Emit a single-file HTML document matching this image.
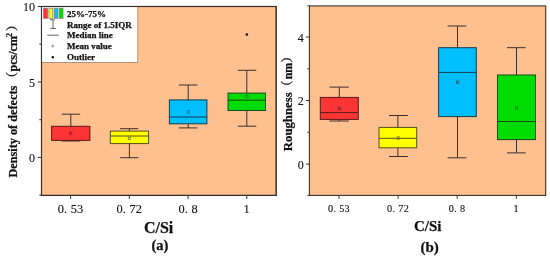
<!DOCTYPE html>
<html><head><meta charset="utf-8"><title>Box plots</title>
<style>
html,body{margin:0;padding:0;background:#fff;}
body{width:550px;height:258px;overflow:hidden;}
svg{display:block;}
text{font-family:"Liberation Serif","Noto Serif CJK SC",serif;fill:#111;stroke:#111;stroke-width:0.12px;}
.b{font-weight:bold;stroke:#111;stroke-width:0.25px;}
</style></head><body>
<svg width="550" height="258" viewBox="0 0 550 258">
<rect width="550" height="258" fill="#fff"/>
<rect x="41.5" y="6.5" width="234.7" height="188.9" fill="#FEC08F" stroke="#3c302b" stroke-width="1.1"/>
<line x1="37.7" y1="6.5" x2="41.5" y2="6.5" stroke="#3c302b" stroke-width="1"/>
<line x1="39.3" y1="44.2" x2="41.5" y2="44.2" stroke="#3c302b" stroke-width="1"/>
<line x1="37.7" y1="82.0" x2="41.5" y2="82.0" stroke="#3c302b" stroke-width="1"/>
<line x1="39.3" y1="119.7" x2="41.5" y2="119.7" stroke="#3c302b" stroke-width="1"/>
<line x1="37.7" y1="157.4" x2="41.5" y2="157.4" stroke="#3c302b" stroke-width="1"/>
<line x1="39.3" y1="195.1" x2="41.5" y2="195.1" stroke="#3c302b" stroke-width="1"/>
<text x="35" y="11.1" font-size="12" text-anchor="end">10</text>
<text x="35" y="86.5" font-size="12" text-anchor="end">5</text>
<text x="35" y="162.0" font-size="12" text-anchor="end">0</text>
<line x1="70.6" y1="195.4" x2="70.6" y2="199.0" stroke="#3c302b" stroke-width="1"/>
<line x1="129.3" y1="195.4" x2="129.3" y2="199.0" stroke="#3c302b" stroke-width="1"/>
<line x1="188.1" y1="195.4" x2="188.1" y2="199.0" stroke="#3c302b" stroke-width="1"/>
<line x1="246.8" y1="195.4" x2="246.8" y2="199.0" stroke="#3c302b" stroke-width="1"/>
<text x="70.6" y="213" font-size="12.4" letter-spacing="0.2" text-anchor="middle">0. 53</text>
<text x="129.3" y="213" font-size="12.4" letter-spacing="0.2" text-anchor="middle">0. 72</text>
<text x="188.1" y="213" font-size="12.4" letter-spacing="0.2" text-anchor="middle">0. 8</text>
<text x="246.8" y="213" font-size="12.4" letter-spacing="0.2" text-anchor="middle">1</text>
<line x1="70.8" y1="114.2" x2="70.8" y2="141.0" stroke="#3c302b" stroke-width="1"/>
<line x1="61.8" y1="114.2" x2="80.2" y2="114.2" stroke="#3c302b" stroke-width="1"/>
<line x1="61.8" y1="141.0" x2="80.2" y2="141.0" stroke="#3c302b" stroke-width="1"/>
<rect x="51.6" y="126.3" width="38.3" height="14.1" fill="#FB3434" stroke="#5c1a1a" stroke-width="1"/>
<rect x="69.5" y="132.1" width="2.4" height="2.4" fill="none" stroke="#5c1a1a" stroke-width="0.6"/>
<line x1="129.4" y1="128.7" x2="129.4" y2="157.7" stroke="#3c302b" stroke-width="1"/>
<line x1="120.1" y1="128.7" x2="138.3" y2="128.7" stroke="#3c302b" stroke-width="1"/>
<line x1="120.1" y1="157.7" x2="138.3" y2="157.7" stroke="#3c302b" stroke-width="1"/>
<rect x="110.3" y="131.1" width="38.3" height="12.5" fill="#FFFF00" stroke="#55501a" stroke-width="1"/>
<line x1="110.3" y1="136.0" x2="148.6" y2="136.0" stroke="#55501a" stroke-width="1"/>
<rect x="128.2" y="137.2" width="2.4" height="2.4" fill="none" stroke="#55501a" stroke-width="0.6"/>
<line x1="188.2" y1="85.0" x2="188.2" y2="127.9" stroke="#3c302b" stroke-width="1"/>
<line x1="178.9" y1="85.0" x2="197.4" y2="85.0" stroke="#3c302b" stroke-width="1"/>
<line x1="178.9" y1="127.9" x2="197.4" y2="127.9" stroke="#3c302b" stroke-width="1"/>
<rect x="169.4" y="99.9" width="37.5" height="23.9" fill="#00BFFF" stroke="#1a3a4a" stroke-width="1"/>
<line x1="169.4" y1="117.0" x2="206.9" y2="117.0" stroke="#1a3a4a" stroke-width="1"/>
<rect x="187.2" y="110.7" width="2.4" height="2.4" fill="none" stroke="#1a3a4a" stroke-width="0.6"/>
<line x1="246.8" y1="70.3" x2="246.8" y2="126.2" stroke="#3c302b" stroke-width="1"/>
<line x1="237.8" y1="70.3" x2="256.3" y2="70.3" stroke="#3c302b" stroke-width="1"/>
<line x1="237.8" y1="126.2" x2="256.3" y2="126.2" stroke="#3c302b" stroke-width="1"/>
<rect x="228.0" y="93.1" width="37.5" height="17.4" fill="#00DC00" stroke="#1a4a1a" stroke-width="1"/>
<line x1="228.0" y1="100.2" x2="265.5" y2="100.2" stroke="#1a4a1a" stroke-width="1"/>
<rect x="245.6" y="95.2" width="2.4" height="2.4" fill="none" stroke="#1a4a1a" stroke-width="0.6"/>
<circle cx="246.9" cy="34.5" r="1.3" fill="#111"/>
<rect x="41.5" y="6.5" width="96.3" height="55.9" fill="#fff" stroke="#7a6050" stroke-width="0.6"/>
<rect x="43.6" y="8.2" width="3.9" height="10.1" fill="#FB3434" stroke="#808080" stroke-width="0.8"/>
<rect x="48.9" y="8.2" width="3.9" height="10.1" fill="#FFFF00" stroke="#808080" stroke-width="0.8"/>
<rect x="54.2" y="8.2" width="3.7" height="10.1" fill="#00BFFF" stroke="#808080" stroke-width="0.8"/>
<rect x="59.2" y="8.2" width="3.8" height="10.1" fill="#00DC00" stroke="#808080" stroke-width="0.8"/>
<path d="M49.8 19.8 H54.8 M53 19.8 V28.5 M50.3 28.5 H55.9" stroke="#666" stroke-width="1" fill="none"/>
<line x1="47.3" y1="35.2" x2="58.7" y2="35.2" stroke="#666" stroke-width="1"/>
<circle cx="52.8" cy="46" r="1.4" fill="#a8a8a8"/>
<circle cx="52.8" cy="57.3" r="1.2" fill="#111"/>
<text class="b" x="66.9" y="17.1" font-size="9">25%-75%</text>
<text class="b" x="66.9" y="28.0" font-size="9">Range of 1.5IQR</text>
<text class="b" x="66.9" y="38.2" font-size="9">Median line</text>
<text class="b" x="66.9" y="49.1" font-size="9">Mean value</text>
<text class="b" x="66.9" y="59.6" font-size="9">Outlier</text>
<rect x="41.5" y="6.5" width="234.7" height="188.9" fill="none" stroke="#3c302b" stroke-width="1.1"/>
<text class="b" transform="translate(17.4,177.6) rotate(-90)" font-size="12.25" >Density of defects</text>
<text class="b" transform="translate(17.4,84.0) rotate(-90)" font-size="12" >（</text>
<text class="b" transform="translate(17.4,71.4) rotate(-90)" font-size="12" >pcs/cm</text>
<text class="b" transform="translate(12.4,37.0) rotate(-90)" font-size="8" >2</text>
<text class="b" transform="translate(17.4,31.0) rotate(-90)" font-size="12" >）</text>
<text class="b" x="158.6" y="232.7" font-size="16" text-anchor="middle">C/Si</text>
<text class="b" x="160" y="250" font-size="14.5" text-anchor="middle">(a)</text>
<rect x="309.4" y="5.9" width="236.3" height="189.5" fill="#FEC08F" stroke="#3c302b" stroke-width="1.1"/>
<line x1="307.4" y1="5.9" x2="309.4" y2="5.9" stroke="#3c302b" stroke-width="1"/>
<line x1="306.0" y1="37.0" x2="309.4" y2="37.0" stroke="#3c302b" stroke-width="1"/>
<line x1="307.4" y1="68.8" x2="309.4" y2="68.8" stroke="#3c302b" stroke-width="1"/>
<line x1="306.0" y1="100.5" x2="309.4" y2="100.5" stroke="#3c302b" stroke-width="1"/>
<line x1="307.4" y1="132.3" x2="309.4" y2="132.3" stroke="#3c302b" stroke-width="1"/>
<line x1="306.0" y1="164.1" x2="309.4" y2="164.1" stroke="#3c302b" stroke-width="1"/>
<line x1="307.4" y1="195.4" x2="309.4" y2="195.4" stroke="#3c302b" stroke-width="1"/>
<text x="303.8" y="41.8" font-size="12" text-anchor="end">4</text>
<text x="303.8" y="105.3" font-size="12" text-anchor="end">2</text>
<text x="303.8" y="168.9" font-size="12" text-anchor="end">0</text>
<line x1="339.0" y1="195.4" x2="339.0" y2="198.8" stroke="#3c302b" stroke-width="1"/>
<line x1="398.1" y1="195.4" x2="398.1" y2="198.8" stroke="#3c302b" stroke-width="1"/>
<line x1="457.2" y1="195.4" x2="457.2" y2="198.8" stroke="#3c302b" stroke-width="1"/>
<line x1="516.3" y1="195.4" x2="516.3" y2="198.8" stroke="#3c302b" stroke-width="1"/>
<text x="339.0" y="212" font-size="10.2" letter-spacing="0.35" text-anchor="middle">0. 53</text>
<text x="398.1" y="212" font-size="10.2" letter-spacing="0.35" text-anchor="middle">0. 72</text>
<text x="457.2" y="212" font-size="10.2" letter-spacing="0.35" text-anchor="middle">0. 8</text>
<text x="516.3" y="212" font-size="10.2" letter-spacing="0.35" text-anchor="middle">1</text>
<line x1="339.3" y1="87.1" x2="339.3" y2="121.0" stroke="#3c302b" stroke-width="1"/>
<line x1="329.5" y1="87.1" x2="348.8" y2="87.1" stroke="#3c302b" stroke-width="1"/>
<line x1="329.5" y1="121.0" x2="348.8" y2="121.0" stroke="#3c302b" stroke-width="1"/>
<rect x="320.3" y="97.4" width="38.0" height="22.0" fill="#FB3434" stroke="#5c1a1a" stroke-width="1"/>
<line x1="320.3" y1="112.6" x2="358.3" y2="112.6" stroke="#5c1a1a" stroke-width="1"/>
<rect x="338.1" y="107.4" width="2.4" height="2.4" fill="none" stroke="#5c1a1a" stroke-width="0.6"/>
<line x1="397.9" y1="115.5" x2="397.9" y2="156.5" stroke="#3c302b" stroke-width="1"/>
<line x1="389.0" y1="115.5" x2="407.8" y2="115.5" stroke="#3c302b" stroke-width="1"/>
<line x1="389.0" y1="156.5" x2="407.8" y2="156.5" stroke="#3c302b" stroke-width="1"/>
<rect x="379.0" y="127.4" width="37.7" height="20.4" fill="#FFFF00" stroke="#55501a" stroke-width="1"/>
<line x1="379.0" y1="138.3" x2="416.7" y2="138.3" stroke="#55501a" stroke-width="1"/>
<rect x="397.1" y="136.8" width="2.4" height="2.4" fill="none" stroke="#55501a" stroke-width="0.6"/>
<line x1="457.5" y1="26.0" x2="457.5" y2="157.8" stroke="#3c302b" stroke-width="1"/>
<line x1="447.6" y1="26.0" x2="466.4" y2="26.0" stroke="#3c302b" stroke-width="1"/>
<line x1="447.6" y1="157.8" x2="466.4" y2="157.8" stroke="#3c302b" stroke-width="1"/>
<rect x="438.6" y="47.7" width="37.7" height="68.9" fill="#00BFFF" stroke="#1a3a4a" stroke-width="1"/>
<line x1="438.6" y1="72.4" x2="476.3" y2="72.4" stroke="#1a3a4a" stroke-width="1"/>
<rect x="456.4" y="81.1" width="2.4" height="2.4" fill="none" stroke="#1a3a4a" stroke-width="0.6"/>
<line x1="516.5" y1="47.7" x2="516.5" y2="152.9" stroke="#3c302b" stroke-width="1"/>
<line x1="507.0" y1="47.7" x2="525.7" y2="47.7" stroke="#3c302b" stroke-width="1"/>
<line x1="507.0" y1="152.9" x2="525.7" y2="152.9" stroke="#3c302b" stroke-width="1"/>
<rect x="497.5" y="75.0" width="38.0" height="64.6" fill="#00DC00" stroke="#1a4a1a" stroke-width="1"/>
<line x1="497.5" y1="121.5" x2="535.5" y2="121.5" stroke="#1a4a1a" stroke-width="1"/>
<rect x="515.3" y="106.8" width="2.4" height="2.4" fill="none" stroke="#1a4a1a" stroke-width="0.6"/>
<text class="b" transform="translate(292.1,151.2) rotate(-90)" font-size="12.75" >Roughness</text>
<text class="b" transform="translate(292.1,92.5) rotate(-90)" font-size="12" >（</text>
<text class="b" transform="translate(292.1,79.3) rotate(-90)" font-size="12" >nm</text>
<text class="b" transform="translate(292.1,62.5) rotate(-90)" font-size="12" >）</text>
<text class="b" x="427.7" y="230.8" font-size="15" text-anchor="middle">C/Si</text>
<text class="b" x="429.7" y="251.9" font-size="15" text-anchor="middle">(b)</text>
</svg></body></html>
